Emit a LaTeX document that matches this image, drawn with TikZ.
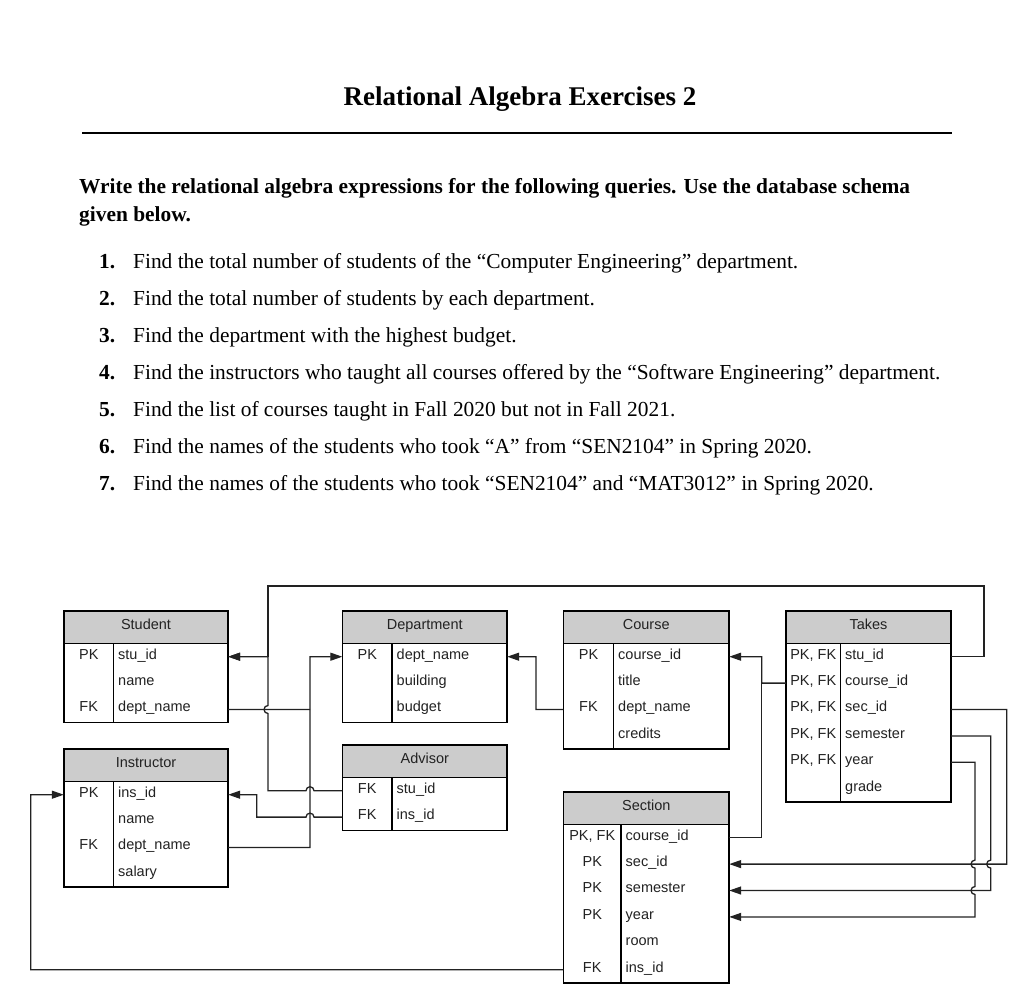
\documentclass[tikz,border=0pt]{standalone}
\usepackage{fontspec}
\setmainfont{Liberation Serif}
\newfontfamily\diagfont{Liberation Sans}
\usetikzlibrary{arrows.meta}
\definecolor{hdrgray}{RGB}{204,204,204}
\definecolor{ink}{RGB}{34,34,34}

\newcommand{\ertable}[7]{%
  % #1 name, #2 left x, #3 right x, #4 divider x, #5 top y, #6 title, #7 rows
  \foreach \k/\f [count=\i] in {#7}{\xdef\ernrows{\i}}%
  \pgfmathsetmacro\erbot{#5+32.5+26.4*\ernrows}%
  \fill[hdrgray] (#2,#5) rectangle (#3,{#5+32.5});
  \node[hdrtext] (#1) at ({(#2+#3)/2},{#5+16.25}) {#6};
  \draw[box] (#2,#5) rectangle (#3,\erbot);
  \draw[box] (#2,{#5+32.5}) -- (#3,{#5+32.5});
  \draw[box] (#4,{#5+32.5}) -- (#4,\erbot);
  \foreach \k/\f [count=\i] in {#7}{%
    \node[rowbox, minimum width={(#3-#2)*1pt}] (#1-\i) at ({(#2+#3)/2},{#5+32.5+26.4*(\i-0.5)}) {};
    \node[keytext] (#1-\i-k) at ({(#2+#4)/2},{#5+32.5+26.4*(\i-0.5)}) {\k};
    \node[fieldtext] (#1-\i-f) at ({#4+4.5},{#5+32.5+26.4*(\i-0.5)}) {\f};
  }%
}

\begin{document}
\begin{tikzpicture}[x=1pt,y=-1pt,
  box/.style={draw=black, line width=1.4pt},
  dfont/.style={font=\diagfont\fontsize{14.5}{16}\selectfont, text=ink, inner sep=0pt},
  hdrtext/.style={dfont, anchor=mid},
  rowbox/.style={inner sep=0pt, minimum height=26.4pt},
  keytext/.style={dfont, anchor=mid},
  fieldtext/.style={dfont, anchor=mid west},
  conn/.style={draw=ink, line width=1.3pt},
  arr/.style={conn, -{Triangle[length=12pt,width=8pt]}},
  itemfont/.style={font=\fontsize{21.4}{24}\selectfont},
]
\useasboundingbox[fill=white] (0,0) rectangle (1024,1006);

% ---- heading and text
\node[anchor=base, font=\bfseries\fontsize{27}{30}\selectfont] (title) at (520,106) {Relational Algebra Exercises 2};
\draw[line width=1.8pt] (82,132.7) -- (952,132.7);
\node[anchor=base west, inner sep=0pt, font=\bfseries\fontsize{21.4}{24}\selectfont] (intro1) at (79,193.3) {Write the relational algebra expressions for the following queries. Use the database schema};
\node[anchor=base west, inner sep=0pt, font=\bfseries\fontsize{21.4}{24}\selectfont] (intro2) at (79,221.7) {given below.};
\foreach \t [count=\i] in {%
  Find the total number of students of the “Computer Engineering” department.,
  Find the total number of students by each department.,
  Find the department with the highest budget.,
  Find the instructors who taught all courses offered by the “Software Engineering” department.,
  Find the list of courses taught in Fall 2020 but not in Fall 2021.,
  Find the names of the students who took “A” from “SEN2104” in Spring 2020.,
  Find the names of the students who took “SEN2104” and “MAT3012” in Spring 2020.}{%
  \node[anchor=base west, inner sep=0pt, font=\bfseries\fontsize{21.4}{24}\selectfont] (num\i) at (99,{268.3+37*(\i-1)}) {\i.};
  \node[anchor=base west, inner sep=0pt, itemfont] (item\i) at (133,{268.3+37*(\i-1)}) {\t};
}

% ---- tables
\ertable{Student}{64}{228}{113.5}{611}{Student}{PK/stu\_id, /name, FK/dept\_name}
\ertable{Instructor}{64}{228}{113.5}{749}{Instructor}{PK/ins\_id, /name, FK/dept\_name, /salary}
\ertable{Department}{342.5}{507}{392}{611}{Department}{PK/dept\_name, /building, /budget}
\ertable{Advisor}{342.5}{507}{392}{745}{Advisor}{FK/stu\_id, FK/ins\_id}
\ertable{Course}{563.5}{729}{613.5}{611}{Course}{PK/course\_id, /title, FK/dept\_name, /credits}
\ertable{Takes}{786}{951}{840.5}{611}{Takes}{{PK, FK}/stu\_id, {PK, FK}/course\_id, {PK, FK}/sec\_id, {PK, FK}/semester, {PK, FK}/year, /grade}
\ertable{Section}{563.5}{729}{621}{792}{Section}{{PK, FK}/course\_id, PK/sec\_id, PK/semester, PK/year, /room, FK/ins\_id}

% ---- connectors
% Takes.stu_id -> Student.stu_id
\draw[arr] (Takes-1.east) -| (984,586) -- (268,586) |- (Student-1.east);
% Advisor.stu_id -> Student.stu_id
\draw[arr] (Advisor-1.west) -- (314,790.7) arc[start angle=0,end angle=-180,radius=4]
  -- (268,790.7) -- (268,713.5) arc[start angle=90,end angle=270,radius=4] |- (Student-1.east);
% Advisor.ins_id -> Instructor.ins_id
\draw[arr] (Advisor-2.west) -- (314,817.1) arc[start angle=0,end angle=-180,radius=4]
  -- (256.7,817.1) |- (Instructor-1.east);
% Instructor.dept_name / Student.dept_name -> Department.dept_name
\draw[arr] (Instructor-3.east) -- (310,847.5) |- (Department-1.west);
\draw[conn] (Student-3.east) -- (310,709.5);
% Course.dept_name -> Department.dept_name
\draw[arr] (Course-3.west) -- (536,709.5) |- (Department-1.east);
% Takes.course_id / Section.course_id -> Course.course_id
\draw[arr] (Takes-2.west) -- (761.7,683.1) |- (Course-1.east);
\draw[conn] (Section-1.east) -- (761.7,837.7) -- (761.7,683.1);
% Takes.sec_id / semester / year -> Section
\draw[arr] (Takes-3.east) -| (1006.7,864.1) -- (Section-2.east);
\draw[arr] (Takes-4.east) -- (990.7,735.9) -- (990.7,860.1) arc[start angle=270,end angle=90,radius=4]
  -- (990.7,890.5) -- (Section-3.east);
\draw[arr] (Takes-5.east) -- (975,762.3) -- (975,860.1) arc[start angle=270,end angle=90,radius=4]
  -- (975,886.5) arc[start angle=270,end angle=90,radius=4] -- (975,916.9) -- (Section-4.east);
% Section.ins_id -> Instructor.ins_id
\draw[arr] (Section-6.west) -- (30.7,969.7) |- (Instructor-1.west);
\end{tikzpicture}
\end{document}
